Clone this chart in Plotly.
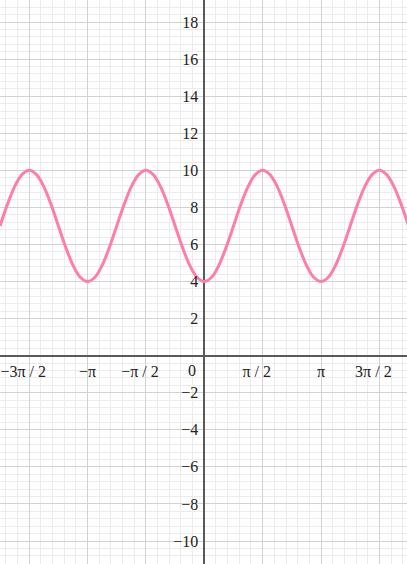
import numpy as np
import plotly.graph_objects as go

# Curve samples: x in multiples of pi/16, y values
x_sixteenths = list(range(-28, 29))
y_values = [7, 8.15, 9.12, 9.77, 10, 9.77, 9.12, 8.15, 7, 5.85, 4.88, 4.23, 4, 4.23, 4.88, 5.85,
            7, 8.15, 9.12, 9.77, 10, 9.77, 9.12, 8.15, 7, 5.85, 4.88, 4.23, 4, 4.23, 4.88, 5.85,
            7, 8.15, 9.12, 9.77, 10, 9.77, 9.12, 8.15, 7, 5.85, 4.88, 4.23, 4, 4.23, 4.88, 5.85,
            7, 8.15, 9.12, 9.77, 10, 9.77, 9.12, 8.15, 7]

# Tick labels
x_tick_halfpis = [-3, -2, -1, 1, 2, 3]
x_tick_text = ["\u22123\u03c0 / 2", "\u2212\u03c0", "\u2212\u03c0 / 2",
               "\u03c0 / 2", "\u03c0", "3\u03c0 / 2"]
y_tick_vals = [-10, -8, -6, -4, -2, 2, 4, 6, 8, 10, 12, 14, 16, 18]
y_tick_text = ["\u2212" + str(-v) if v < 0 else str(v) for v in y_tick_vals]

x_range = [-5.499, 5.456]
y_range = [-11.24, 19.19]

xs = [k * np.pi / 16 for k in x_sixteenths]
NB = "\u00a0"
x_tick_text_padded = [t + NB * 3 if "/" in t else t for t in x_tick_text]

fig = go.Figure()
fig.add_trace(go.Scatter(
    x=xs, y=y_values, mode="lines",
    line=dict(color="rgb(255,125,170)", width=3, shape="spline", smoothing=1.0),
    hoverinfo="skip", showlegend=False,
))

label_font = dict(family="Liberation Serif", size=16, color="#222")
major_grid = "#d2d2d2"
minor_grid = "#ececec"
axis_color = "#5a5a5a"

xpos = (0 - y_range[0]) / (y_range[1] - y_range[0])
ypos = (0 - x_range[0]) / (x_range[1] - x_range[0])

fig.update_layout(
    width=407, height=564, autosize=False,
    margin=dict(l=0, r=0, t=0, b=0),
    paper_bgcolor="white", plot_bgcolor="white",
    xaxis=dict(
        range=x_range, anchor="free", position=xpos,
        tickvals=[k * np.pi / 2 for k in x_tick_halfpis],
        ticktext=x_tick_text_padded,
        tickfont=label_font, ticks="", ticklabelstandoff=4,
        showgrid=True, gridcolor=major_grid, gridwidth=1,
        minor=dict(tickvals=[k * np.pi / 10 for k in range(-20, 21) if k % 5 != 0],
                   showgrid=True, gridcolor=minor_grid, gridwidth=1),
        zeroline=True, zerolinecolor=axis_color, zerolinewidth=1.5,
        showline=False, fixedrange=True,
    ),
    yaxis=dict(
        range=y_range, anchor="free", position=ypos,
        tickvals=y_tick_vals, ticktext=y_tick_text,
        tickfont=label_font, ticks="", ticklabelstandoff=6,
        showgrid=True, gridcolor=major_grid, gridwidth=1,
        minor=dict(tickvals=[k * 0.4 for k in range(-30, 50) if k % 5 != 0],
                   showgrid=True, gridcolor=minor_grid, gridwidth=1),
        zeroline=True, zerolinecolor=axis_color, zerolinewidth=1.5,
        showline=False, fixedrange=True,
    ),
    annotations=[dict(x=0, y=0, xref="x", yref="y", text="0", showarrow=False,
                      xanchor="right", yanchor="top", xshift=-6, yshift=-4,
                      font=label_font)],
)

fig.write_html("out.html", config={"displayModeBar": False},
               post_script="document.body.style.margin='0';")
